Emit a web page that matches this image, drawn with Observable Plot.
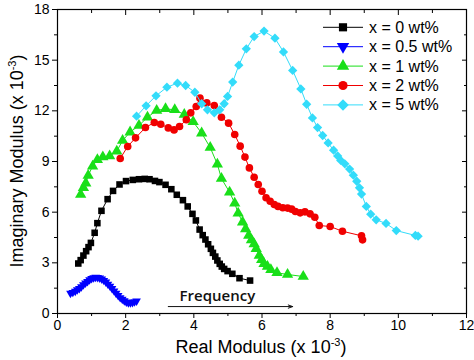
<!DOCTYPE html>
<html><head><meta charset="utf-8">
<script src="https://cdn.jsdelivr.net/npm/d3@7"></script>
<script src="https://cdn.jsdelivr.net/npm/@observablehq/plot@0.6"></script>
<style>body{margin:0;background:#fff}#chart{width:474px;height:360px}</style>
</head><body><div id="chart"></div>
<script>
// ---- data (units of 10^-3) ----
const seriesNames = ["x = 0 wt%", "x = 0.5 wt%", "x = 1 wt%", "x = 2 wt%", "x = 5 wt%"];
const seriesColors = ["#000000", "#0000ff", "#19df19", "#f00000", "#33dcfa"];

const real0 = [0.61,0.68,0.76,0.84,0.91,0.98,1.09,1.17,1.29,1.47,1.63,1.82,2.01,2.21,2.39,2.56,2.70,2.86,2.99,3.17,3.34,3.50,3.68,3.82,3.96,4.06,4.17,4.26,4.34,4.42,4.50,4.56,4.63,4.69,4.76,4.82,4.89,4.99,5.13,5.34,5.65];
const imag0 = [2.96,3.16,3.43,3.69,3.93,4.18,4.78,5.35,6.08,6.77,7.26,7.64,7.84,7.91,7.95,7.97,7.95,7.85,7.78,7.62,7.36,7.03,6.71,6.34,5.90,5.51,4.97,4.64,4.38,4.10,3.83,3.59,3.37,3.14,2.94,2.78,2.64,2.51,2.35,2.09,1.95];

const real05 = [0.38,0.45,0.52,0.58,0.64,0.70,0.76,0.82,0.88,0.94,1.00,1.06,1.12,1.18,1.24,1.30,1.36,1.42,1.48,1.54,1.60,1.66,1.72,1.78,1.84,1.90,1.96,2.02,2.08,2.14,2.20,2.26,2.32];
const imag05 = [1.20,1.25,1.32,1.40,1.48,1.58,1.70,1.80,1.90,2.00,2.07,2.12,2.14,2.13,2.10,2.04,1.96,1.86,1.74,1.62,1.48,1.34,1.20,1.06,0.94,0.84,0.75,0.68,0.64,0.63,0.65,0.70,0.74];

const real1 = [0.68,0.76,0.83,0.90,1.03,1.17,1.33,1.53,1.74,1.91,2.13,2.39,2.64,2.91,3.17,3.44,3.72,3.98,4.23,4.48,4.69,4.81,5.05,5.20,5.30,5.43,5.52,5.61,5.69,5.77,5.83,5.92,5.99,6.06,6.16,6.26,6.44,6.75,7.21];
const imag1 = [7.05,7.44,7.72,8.17,8.72,9.10,9.26,9.33,9.61,10.24,10.74,11.13,11.62,12.02,12.12,12.06,11.78,11.35,10.68,9.83,8.84,7.99,7.18,6.53,5.94,5.41,5.01,4.62,4.36,4.12,3.83,3.43,3.18,2.94,2.78,2.59,2.41,2.31,2.19];

const real2 = [1.84,2.06,2.29,2.58,2.84,3.03,3.25,3.42,3.58,3.78,3.91,4.07,4.18,4.38,4.60,4.81,5.02,5.20,5.36,5.50,5.63,5.77,5.89,6.00,6.12,6.24,6.36,6.47,6.61,6.75,6.87,6.98,7.12,7.26,7.41,7.55,7.68,8.00,8.36,8.92,8.95];
const imag2 = [9.18,9.89,10.40,11.01,11.31,11.21,10.99,10.87,11.07,11.47,11.88,12.26,12.75,12.47,12.32,11.62,11.27,10.60,9.91,9.26,8.62,8.07,7.64,7.24,6.85,6.65,6.45,6.34,6.26,6.24,6.18,6.04,5.96,6.02,5.90,5.70,5.21,5.15,4.87,4.60,4.36];

const real5 = [2.32,2.60,2.89,3.21,3.52,3.76,4.03,4.23,4.40,4.60,4.76,4.89,4.99,5.14,5.32,5.54,5.77,6.06,6.38,6.63,6.90,7.14,7.31,7.48,7.63,7.78,7.94,8.10,8.22,8.31,8.43,8.57,8.68,8.78,8.86,8.92,9.06,9.19,9.35,9.64,9.94,10.50,10.58];
const imag5 = [11.68,12.30,12.89,13.40,13.64,13.50,13.10,12.42,12.06,11.88,12.06,12.42,12.85,13.70,14.70,15.67,16.40,16.72,16.30,15.49,14.39,13.30,12.39,11.58,11.01,10.54,10.10,9.67,9.33,9.06,8.86,8.55,8.19,7.83,7.44,7.07,6.34,5.88,5.55,5.33,4.91,4.62,4.58];

const xTicks = [0,2,4,6,8,10,12];
const xMinor = [1,3,5,7,9,11];
const yTicks = [0,3,6,9,12,15,18];
const yMinor = [1.5,4.5,7.5,10.5,13.5,16.5];
const arrowData = [{x1: 3.25, x2: 6.9, y: 0.41}];
const noteData = [{x: 4.69, y: 0.72, text: "Frequency"}];

// ---- build ----
const zip = (xs, ys) => xs.map((v, i) => ({x: v, y: ys[i]}));
const series = [
  {data: zip(real0, imag0), symbol: "square", rotate: 0, r: 3.7},
  {data: zip(real05, imag05), symbol: "triangle", rotate: 180, r: 3.2},
  {data: zip(real1, imag1), symbol: "triangle", rotate: 0, r: 4.2},
  {data: zip(real2, imag2), symbol: "circle", rotate: 0, r: 3.8},
  {data: zip(real5, imag5), symbol: "square", rotate: 45, r: 3.7}
];

const font = "'Liberation Sans', Arial, sans-serif";
const marks = [];
series.forEach((s, i) => {
  marks.push(Plot.line(s.data, {x: "x", y: "y", stroke: seriesColors[i], strokeWidth: 1}));
  marks.push(Plot.dot(s.data, {x: "x", y: "y", symbol: s.symbol, fill: seriesColors[i], r: s.r, rotate: s.rotate, stroke: "none"}));
});
marks.push(Plot.arrow(arrowData, {x1: "x1", x2: "x2", y1: "y", y2: "y", stroke: "#111", strokeWidth: 1, headLength: 7, headAngle: 40}));
marks.push(Plot.text(noteData, {x: "x", y: "y", text: "text", fontFamily: "'Open Sans', sans-serif", fontSize: 15, fontWeight: 600, fill: "#111", textAnchor: "middle", lineAnchor: "bottom"}));
// axes
marks.push(Plot.axisX({ticks: xTicks, tickSize: 5, tickPadding: 2, tickFormat: d => d, label: null, fontSize: 14}));
marks.push(Plot.axisX({ticks: xMinor, tickSize: 3, text: null, label: null}));
marks.push(Plot.axisX({anchor: "top", ticks: xTicks, tickSize: 5, dy: 5, text: null, label: null}));
marks.push(Plot.axisX({anchor: "top", ticks: xMinor, tickSize: 3, dy: 3, text: null, label: null}));
marks.push(Plot.axisY({ticks: yTicks, tickSize: 5, tickPadding: 3, tickFormat: d => d, label: null, fontSize: 14}));
marks.push(Plot.axisY({ticks: yMinor, tickSize: 3, text: null, label: null}));
marks.push(Plot.axisY({anchor: "right", ticks: yTicks, tickSize: 5, dx: -5, text: null, label: null}));
marks.push(Plot.axisY({anchor: "right", ticks: yMinor, tickSize: 3, dx: -3, text: null, label: null}));
marks.push(Plot.frame({stroke: "#000", strokeWidth: 1.2}));

const plot = Plot.plot({
  width: 474, height: 360,
  marginLeft: 57, marginRight: 8, marginTop: 9, marginBottom: 47,
  x: {domain: [0, 12]},
  y: {domain: [0, 18]},
  style: {fontFamily: font, fontSize: "14px", color: "#000", background: "#fff"},
  marks
});
document.getElementById("chart").appendChild(plot);

// ---- axis titles and legend ----
const svg = d3.select(plot);
const xt = svg.append("text").attr("x", 261).attr("y", 353).attr("text-anchor", "middle")
  .style("font-family", font).style("font-size", "18px").attr("fill", "#000");
xt.append("tspan").text("Real Modulus (x 10");
xt.append("tspan").attr("dy", -7).style("font-size", "11px").text("-3");
xt.append("tspan").attr("dy", 7).text(")");

const yt = svg.append("text").attr("transform", "translate(23,161) rotate(-90)").attr("text-anchor", "middle")
  .style("font-family", font).style("font-size", "18px").attr("fill", "#000");
yt.append("tspan").text("Imaginary Modulus (x 10");
yt.append("tspan").attr("dy", -7).style("font-size", "11px").text("-3");
yt.append("tspan").attr("dy", 7).text(")");

const symMap = {square: d3.symbolSquare, triangle: d3.symbolTriangle, circle: d3.symbolCircle};
const lg = svg.append("g").attr("text-anchor", "start");
seriesNames.forEach((name, i) => {
  const cy = 27.3 + i * 19.4;
  const s = series[i];
  lg.append("line").attr("x1", 323).attr("x2", 363).attr("y1", cy).attr("y2", cy)
    .attr("stroke", seriesColors[i]).attr("stroke-width", 1);
  const r = 4.6;
  lg.append("path").attr("d", d3.symbol(symMap[s.symbol], Math.PI * r * r)())
    .attr("transform", `translate(343,${cy}) rotate(${s.rotate})`).attr("fill", seriesColors[i]);
  lg.append("text").attr("x", 369).attr("y", cy + 5.5).attr("text-anchor", "start").text(name)
    .style("font-family", font).style("font-size", "16px").attr("fill", "#000");
});
</script>
</body></html>
